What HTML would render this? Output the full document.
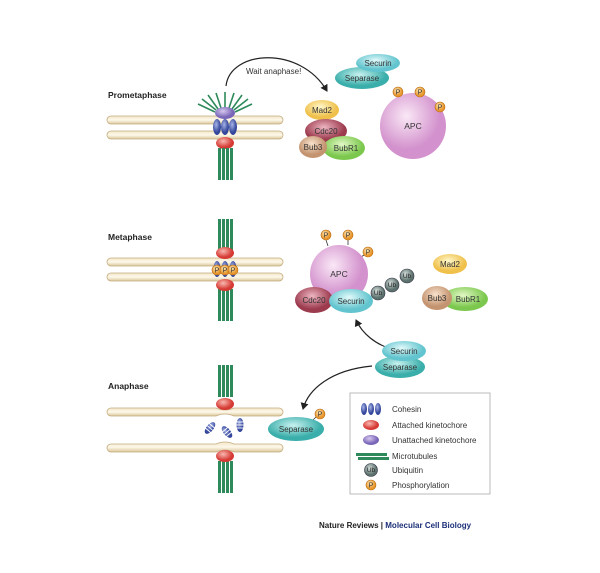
<!DOCTYPE html>
<html><head><meta charset="utf-8"><style>
html,body{margin:0;padding:0;background:#fff;}
svg{display:block;font-family:"Liberation Sans",sans-serif;}
</style></head><body>
<svg width="600" height="573" viewBox="0 0 600 573" xmlns="http://www.w3.org/2000/svg">
<defs>
<linearGradient id="chr" x1="0" y1="0" x2="0" y2="1"><stop offset="0" stop-color="#f3e6c8"/><stop offset="0.5" stop-color="#fdf8ea"/><stop offset="1" stop-color="#dcc79a"/></linearGradient>
<radialGradient id="red" cx="0.4" cy="0.35"><stop offset="0" stop-color="#f8b8b0"/><stop offset="1" stop-color="#d63a34"/></radialGradient>
<radialGradient id="pur" cx="0.4" cy="0.35"><stop offset="0" stop-color="#d6c8ee"/><stop offset="1" stop-color="#7a66b8"/></radialGradient>
<radialGradient id="blu" cx="0.4" cy="0.35"><stop offset="0" stop-color="#a8b4e6"/><stop offset="1" stop-color="#34479c"/></radialGradient>
<radialGradient id="apc" cx="0.4" cy="0.35"><stop offset="0" stop-color="#fae8f6"/><stop offset="1" stop-color="#d392cd"/></radialGradient>
<radialGradient id="teal" cx="0.45" cy="0.35"><stop offset="0" stop-color="#c8f2f0"/><stop offset="1" stop-color="#3aaeaa"/></radialGradient>
<radialGradient id="sec" cx="0.45" cy="0.35"><stop offset="0" stop-color="#e2fafb"/><stop offset="1" stop-color="#62c4ce"/></radialGradient>
<radialGradient id="yel" cx="0.45" cy="0.35"><stop offset="0" stop-color="#fff8cc"/><stop offset="1" stop-color="#efc04a"/></radialGradient>
<radialGradient id="cdc" cx="0.45" cy="0.35"><stop offset="0" stop-color="#eeb6c2"/><stop offset="1" stop-color="#9c3a4e"/></radialGradient>
<radialGradient id="bub3" cx="0.45" cy="0.35"><stop offset="0" stop-color="#f8e2cc"/><stop offset="1" stop-color="#c49470"/></radialGradient>
<radialGradient id="grn" cx="0.45" cy="0.35"><stop offset="0" stop-color="#e2f8c6"/><stop offset="1" stop-color="#7cc84e"/></radialGradient>
<radialGradient id="ub" cx="0.4" cy="0.35"><stop offset="0" stop-color="#d4dedb"/><stop offset="1" stop-color="#5c716d"/></radialGradient>
<radialGradient id="pp" cx="0.4" cy="0.35"><stop offset="0" stop-color="#fde8b8"/><stop offset="1" stop-color="#e8962c"/></radialGradient>
<g id="mt"><rect x="0" y="0" width="3" height="32" fill="#2e8a5a"/><rect x="4" y="0" width="3" height="32" fill="#2e8a5a"/><rect x="8" y="0" width="3" height="32" fill="#2e8a5a"/><rect x="12" y="0" width="3" height="32" fill="#2e8a5a"/></g>
<g id="P"><circle r="5" fill="url(#pp)" stroke="#b86a10" stroke-width="0.6"/><text y="2.6" font-size="7" text-anchor="middle" fill="#333">P</text></g>
<g id="cs"><ellipse rx="3.5" ry="7" fill="url(#blu)"/><g stroke="#fff" stroke-width="0.9"><line x1="-4" y1="-3" x2="4" y2="-3"/><line x1="-4" y1="0" x2="4" y2="0"/><line x1="-4" y1="3" x2="4" y2="3"/></g></g>
<marker id="ah" markerWidth="8" markerHeight="8" refX="6" refY="4" orient="auto" markerUnits="userSpaceOnUse"><path d="M0,0 L7,4 L0,8 z" fill="#222"/></marker>
</defs>
<g fill="url(#chr)" stroke="#c4ad80" stroke-width="0.8">
<rect x="107" y="116" width="176" height="8" rx="4"/><rect x="107" y="131" width="176" height="8" rx="4"/>
<rect x="107" y="258" width="176" height="8" rx="4"/><rect x="107" y="273" width="176" height="8" rx="4"/>
<path d="M111,408 H216 Q225,412 234,408 H279 A4,4 0 0 1 279,416 H234 Q225,412 216,416 H111 A4,4 0 0 1 111,408 Z"/>
<path d="M111,444 H216 Q225,440 234,444 H279 A4,4 0 0 1 279,452 H234 Q225,448 216,452 H111 A4,4 0 0 1 111,444 Z"/>
</g>
<!-- Prometaphase -->
<text x="108" y="98" font-size="8.5" font-weight="bold" fill="#222">Prometaphase</text>
<g stroke="#2e8a5a" stroke-width="1.6">
<line x1="225" y1="108" x2="225" y2="92"/><line x1="221" y1="108" x2="216" y2="93"/><line x1="229" y1="108" x2="234" y2="93"/>
<line x1="218" y1="109" x2="208" y2="95"/><line x1="232" y1="109" x2="242" y2="95"/><line x1="216" y1="110" x2="202" y2="99"/>
<line x1="234" y1="110" x2="248" y2="99"/><line x1="215" y1="112" x2="198" y2="104"/><line x1="235" y1="112" x2="252" y2="104"/>
</g>
<ellipse cx="225" cy="113" rx="10" ry="6" fill="url(#pur)"/>
<ellipse cx="217" cy="127" rx="4" ry="8" fill="url(#blu)"/><ellipse cx="225" cy="127" rx="4" ry="8" fill="url(#blu)"/><ellipse cx="233" cy="127" rx="4" ry="8" fill="url(#blu)"/>
<ellipse cx="225" cy="143" rx="9" ry="6" fill="url(#red)"/>
<use href="#mt" x="218" y="148"/>
<path d="M226,86 C230,50 300,45 327,91" fill="none" stroke="#222" stroke-width="1.2" marker-end="url(#ah)"/>
<text x="246" y="74" font-size="8" fill="#333">Wait anaphase!</text>
<ellipse cx="362" cy="78" rx="27" ry="11" fill="url(#teal)"/>
<ellipse cx="378" cy="63" rx="22" ry="9" fill="url(#sec)"/>
<text x="378" y="66" font-size="8" text-anchor="middle" fill="#333">Securin</text>
<text x="362" y="81" font-size="8" text-anchor="middle" fill="#333">Separase</text>
<ellipse cx="322" cy="110" rx="17" ry="10" fill="url(#yel)"/><text x="322" y="113" font-size="8" text-anchor="middle" fill="#333">Mad2</text>
<ellipse cx="326" cy="131" rx="21" ry="12" fill="url(#cdc)"/><text x="326" y="134" font-size="8" text-anchor="middle" fill="#333">Cdc20</text>
<ellipse cx="344" cy="148" rx="21" ry="12" fill="url(#grn)"/><text x="346" y="151" font-size="8" text-anchor="middle" fill="#333">BubR1</text>
<ellipse cx="313" cy="147" rx="14" ry="11" fill="url(#bub3)"/><text x="313" y="150" font-size="8" text-anchor="middle" fill="#333">Bub3</text>
<g stroke="#333" stroke-width="0.8"><line x1="398" y1="97" x2="400" y2="101"/><line x1="420" y1="97" x2="420" y2="100"/><line x1="437" y1="111" x2="434" y2="108"/></g>
<circle cx="413" cy="126" r="33" fill="url(#apc)"/><text x="413" y="129" font-size="8.5" text-anchor="middle" fill="#333">APC</text>
<use href="#P" x="398" y="92"/><use href="#P" x="420" y="92"/><use href="#P" x="440" y="107"/>
<!-- Metaphase -->
<text x="108" y="240" font-size="8.5" font-weight="bold" fill="#222">Metaphase</text>
<use href="#mt" x="218" y="219"/><use href="#mt" x="218" y="289"/>
<ellipse cx="225" cy="253" rx="9" ry="6" fill="url(#red)"/><ellipse cx="225" cy="285" rx="9" ry="6" fill="url(#red)"/>
<ellipse cx="217" cy="269" rx="3.5" ry="8" fill="url(#blu)"/><ellipse cx="225" cy="269" rx="3.5" ry="8" fill="url(#blu)"/><ellipse cx="233" cy="269" rx="3.5" ry="8" fill="url(#blu)"/>
<use href="#P" x="217" y="270"/><use href="#P" x="225" y="270"/><use href="#P" x="233" y="270"/>
<g stroke="#333" stroke-width="0.8"><line x1="326" y1="240" x2="328" y2="246"/><line x1="348" y1="240" x2="348" y2="245"/><line x1="364" y1="255" x2="361" y2="257"/></g>
<circle cx="339" cy="274" r="29" fill="url(#apc)"/><text x="339" y="277" font-size="8.5" text-anchor="middle" fill="#333">APC</text>
<use href="#P" x="326" y="235"/><use href="#P" x="348" y="235"/><use href="#P" x="368" y="252"/>
<circle cx="407" cy="276" r="7" fill="url(#ub)" stroke="#334" stroke-width="0.6"/><circle cx="392" cy="285" r="7" fill="url(#ub)" stroke="#334" stroke-width="0.6"/><circle cx="378" cy="293" r="7" fill="url(#ub)" stroke="#334" stroke-width="0.6"/>
<g font-size="6.5" text-anchor="middle" fill="#222"><text x="407" y="278">Ub</text><text x="392" y="287">Ub</text><text x="378" y="295">Ub</text></g>
<ellipse cx="314" cy="300" rx="19" ry="13" fill="url(#cdc)"/><text x="314" y="303" font-size="8" text-anchor="middle" fill="#333">Cdc20</text>
<ellipse cx="351" cy="301" rx="22" ry="12" fill="url(#sec)"/><text x="351" y="304" font-size="8" text-anchor="middle" fill="#333">Securin</text>
<ellipse cx="450" cy="264" rx="17" ry="10" fill="url(#yel)"/><text x="450" y="267" font-size="8" text-anchor="middle" fill="#333">Mad2</text>
<ellipse cx="465" cy="299" rx="23" ry="12" fill="url(#grn)"/><text x="468" y="302" font-size="8" text-anchor="middle" fill="#333">BubR1</text>
<ellipse cx="437" cy="298" rx="15" ry="12" fill="url(#bub3)"/><text x="437" y="301" font-size="8" text-anchor="middle" fill="#333">Bub3</text>
<path d="M395,350 C375,345 362,333 356,320" fill="none" stroke="#222" stroke-width="1.2" marker-end="url(#ah)"/>
<ellipse cx="400" cy="367" rx="25" ry="11" fill="url(#teal)"/>
<ellipse cx="404" cy="351" rx="22" ry="10" fill="url(#sec)"/>
<text x="404" y="354" font-size="8" text-anchor="middle" fill="#333">Securin</text>
<text x="400" y="370" font-size="8" text-anchor="middle" fill="#333">Separase</text>
<path d="M372,366 C330,370 308,390 303,409" fill="none" stroke="#222" stroke-width="1.2" marker-end="url(#ah)"/>
<!-- Anaphase -->
<text x="108" y="389" font-size="8.5" font-weight="bold" fill="#222">Anaphase</text>
<use href="#mt" x="218" y="365"/><use href="#mt" x="218" y="461"/>
<ellipse cx="225" cy="404" rx="9" ry="6" fill="url(#red)"/><ellipse cx="225" cy="456" rx="9" ry="6" fill="url(#red)"/>
<use href="#cs" transform="translate(210 428) rotate(40)"/>
<use href="#cs" transform="translate(227 432) rotate(-40)"/>
<use href="#cs" transform="translate(240 425)"/>
<line x1="316" y1="417" x2="312" y2="421" stroke="#333" stroke-width="0.8"/>
<ellipse cx="296" cy="429" rx="28" ry="12" fill="url(#teal)"/><text x="296" y="432" font-size="8" text-anchor="middle" fill="#333">Separase</text>
<use href="#P" x="320" y="414"/>
<!-- Legend -->
<rect x="350" y="393" width="140" height="101" fill="#fff" stroke="#aaa" stroke-width="0.8"/>
<ellipse cx="364" cy="409" rx="3" ry="6" fill="url(#blu)"/><ellipse cx="371" cy="409" rx="3" ry="6" fill="url(#blu)"/><ellipse cx="378" cy="409" rx="3" ry="6" fill="url(#blu)"/>
<ellipse cx="371" cy="425" rx="8" ry="5" fill="url(#red)"/>
<ellipse cx="371" cy="440" rx="8" ry="5" fill="url(#pur)"/>
<rect x="356" y="453" width="31" height="3" fill="#2e8a5a"/><rect x="358" y="457" width="31" height="3" fill="#2e8a5a"/>
<circle cx="371" cy="470" r="6.5" fill="url(#ub)" stroke="#334" stroke-width="0.6"/><text x="371" y="472" font-size="6.5" text-anchor="middle" fill="#222">Ub</text>
<use href="#P" x="371" y="485"/>
<g font-size="8" fill="#333">
<text x="392" y="412">Cohesin</text><text x="392" y="428">Attached kinetochore</text><text x="392" y="443">Unattached kinetochore</text>
<text x="392" y="459">Microtubules</text><text x="392" y="473">Ubiquitin</text><text x="392" y="488">Phosphorylation</text>
</g>
<text x="319" y="528" font-size="8" font-weight="bold" fill="#222">Nature Reviews | <tspan fill="#1c2f78">Molecular Cell Biology</tspan></text>
</svg>
</body></html>
